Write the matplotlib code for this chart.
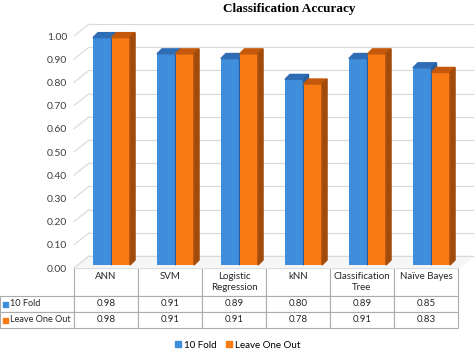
import numpy as np
import matplotlib
matplotlib.use('Agg')
import matplotlib.pyplot as plt
from matplotlib.patches import Patch, Rectangle
from matplotlib.transforms import offset_copy

categories = ['ANN', 'SVM', 'Logistic\nRegression', 'kNN', 'Classification\nTree', 'Naïve Bayes']
series = ['10 Fold', 'Leave One Out']
fold10 = [0.98, 0.91, 0.89, 0.80, 0.89, 0.85]
leave_one_out = [0.98, 0.91, 0.91, 0.78, 0.91, 0.83]
yticks = [0.0, 0.1, 0.2, 0.3, 0.4, 0.5, 0.6, 0.7, 0.8, 0.9, 1.0]

W, H = 474, 351
BLUE, ORANGE = '#3F8EDB', '#F77A13'
FONT = 'Lato'


def fx(x):
    return x / W


def fy(y):
    return 1 - y / H


fig = plt.figure(figsize=(4.74, 3.51), dpi=100)
ax = fig.add_axes([fx(74), fy(268), 384 / W, 232 / H])
ax.set_xlim(-0.5, 5.5)
ax.set_ylim(0, 1)
for s in ax.spines.values():
    s.set_visible(False)
ax.set_xticks([])
ax.set_yticks(yticks)
ax.set_yticklabels([f'{v:.2f}' for v in yticks], fontsize=7.5, family=FONT, color='#404040')
ax.tick_params(axis='y', length=0, pad=5)

# data units per pixel
px_x = 1 / 64
px_y = 1 / 232

# back wall grid + left wall stubs
back = offset_copy(ax.transData, fig, x=0, y=12, units='dots')
ax.hlines(yticks, -0.5 + 15 * px_x, 5.75, transform=back, color='#D9D9D9', lw=0.8, clip_on=False)
for v in yticks:
    ax.plot([-0.5, -0.5 + 15 * px_x], [v, v + 12 * px_y], color='#D9D9D9', lw=0.8, clip_on=False)

# floor
ax.fill([-0.5, -0.5 + 15 * px_x, 5.75, 5.75 - 15 * px_x], [0, 12 * px_y, 12 * px_y, 0],
        color='#F6F6F6', clip_on=False, zorder=1)

# 3D-looking bars
front = offset_copy(ax.transData, fig, x=5.5, y=3, units='dots')
bw = 0.29
dx, dy = 5 * px_x, 5 * px_y
x = np.arange(len(categories))
styles = [
    (fold10, -bw / 2, BLUE, '#2E6DB4', '#2A5F9E', 3),
    (leave_one_out, bw / 2, ORANGE, '#C4590C', '#A34A0D', 4),
]
for vals, off, c_front, c_top, c_side, z in styles:
    xs = x + off
    ax.bar(xs, vals, width=bw, color=c_front, transform=front, clip_on=False, zorder=z)
    for xi, v in zip(xs, vals):
        x0, x1 = xi - bw / 2, xi + bw / 2
        ax.fill([x0, x1, x1 + dx, x0 + dx], [v, v, v + dy, v + dy], color=c_top,
                transform=front, clip_on=False, zorder=z)
        ax.fill([x1, x1 + dx, x1 + dx, x1], [0, dy, v + dy, v], color=c_side,
                transform=front, clip_on=False, zorder=z)

# data table (bbox covers the category columns; row labels sit to the left)
cell_text = [[f'{v:.2f}' for v in fold10], [f'{v:.2f}' for v in leave_one_out]]
col_labels = [c if '\n' in c else c + '\n' for c in categories]
tb = ax.table(cellText=cell_text, colLabels=col_labels, cellLoc='center',
              colWidths=[64 / 458] * 6,
              bbox=[0, -60 / 232, 1, 60 / 232])
for r, name in enumerate(series):
    c = tb.add_cell(r + 1, -1, width=74 / 458, height=16, text=name, loc='left')
    c.PAD = 10 / 74
tb.auto_set_font_size(False)
tb.set_fontsize(7)
for (r, col), cell in tb.get_celld().items():
    cell.set_height(28 if r == 0 else 16)
    cell.set_edgecolor('#ABABAB')
    cell.set_linewidth(0.8)
    cell.get_text().set_fontfamily(FONT)
    cell.get_text().set_color('#262626')
    if col == -1:
        cell.get_text().set_fontsize(6.6)

# row label swatches
for y0, col in [(302, BLUE), (318, ORANGE)]:
    fig.add_artist(Rectangle((fx(3), fy(y0 + 5)), 5 / W, 5 / H, transform=fig.transFigure,
                             color=col, zorder=10))

fig.legend(handles=[Patch(color=BLUE, label=series[0]), Patch(color=ORANGE, label=series[1])],
           loc='center', bbox_to_anchor=(fx(238), fy(345)), ncol=2, frameon=False,
           handlelength=0.6, handleheight=0.6, handletextpad=0.3, columnspacing=1.0,
           prop={'family': FONT, 'size': 7})

fig.text(fx(289.5), fy(9), 'Classification Accuracy', ha='center', va='center',
         family='Liberation Serif', weight='bold', size=9.5)

# table layout settles after a first draw (row-label column offset)
fig.canvas.draw()
plt.savefig('out.png', dpi=100)
